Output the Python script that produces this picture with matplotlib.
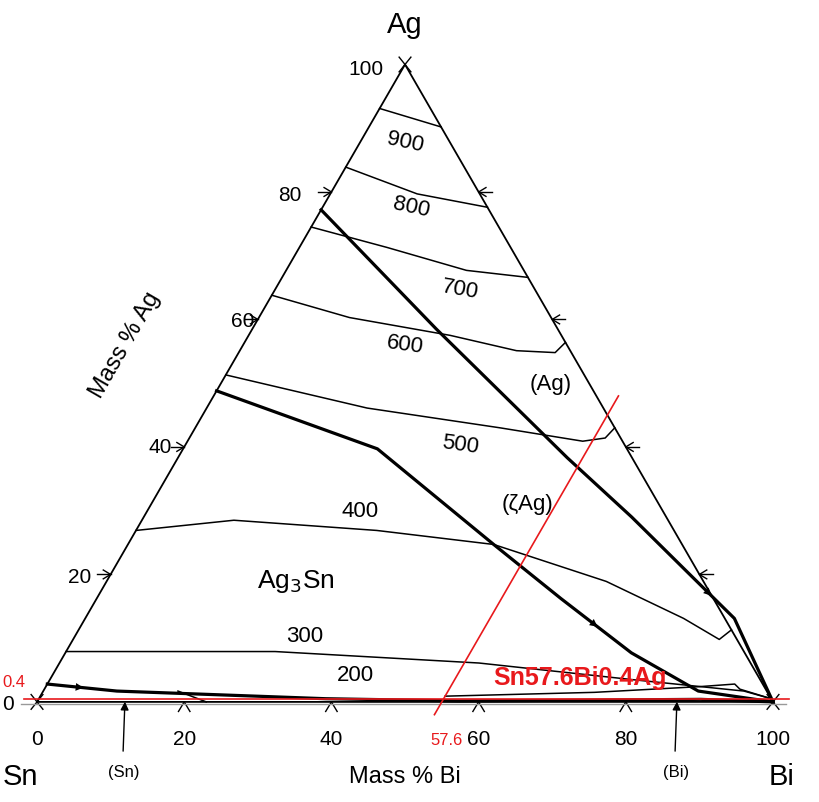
import numpy as np
import matplotlib.pyplot as plt

plt.rcParams['font.family'] = ['Liberation Sans', 'DejaVu Sans']

# isotherms as (mass % Bi, mass % Ag)
iso_900 = [(0, 93.1), (9.8, 90.2)]
iso_800 = [(0, 83.9), (11.8, 79.7), (22.4, 77.6)]
iso_700 = [(0, 74.5), (11.9, 71.3), (24.5, 67.7), (33.4, 66.6)]
iso_600 = [(0, 63.8), (12.3, 60.3), (27.4, 57.5), (37.6, 55.1), (43.0, 54.8), (43.6, 56.4)]
iso_500 = [(0, 51.3), (21.8, 46.1), (41.4, 43.0), (53.7, 40.9), (56.5, 41.4), (57.0, 43.0)]
iso_400 = [(0, 26.9), (12.5, 28.5), (32.7, 26.9), (49.7, 24.7), (67.9, 18.9), (81.3, 13.1),
           (87.8, 9.8), (88.7, 11.3)]
iso_300 = [(0, 7.9), (28.4, 7.9), (57.0, 6.1), (79.1, 3.5), (95.2, 1.7), (99.5, 0.5)]
iso_200 = [(55.0, 0.9), (75.0, 1.5), (88.9, 2.4), (93.4, 2.8), (94.5, 2.0), (99.5, 0.5)]
isotherms = [iso_900, iso_800, iso_700, iso_600, iso_500, iso_400, iso_300, iso_200]

# univariant lines
line_ag = [(0, 77.2), (25.0, 58.5), (52.9, 38.3), (66.3, 29.0), (78.0, 20.5), (88.2, 13.1), (100, 0)]
line_zeta = [(0, 48.8), (26.4, 39.7), (49.7, 24.7), (63.1, 16.2), (76.9, 7.7), (89.0, 1.7), (100, 0)]
line_eut = [(0, 2.8), (10.0, 1.7), (39.0, 0.5), (57.3, 0.15), (90.0, 0.4), (100, 0)]
line_sn = [(18.3, 1.7), (23.0, 0.0)]

ticks = [20, 40, 60, 80]
red_label = '57.6'
red_line_bi = 55.0      # where the red section line is drawn in the reference
red_line_ag = (-2.0, 48.0)
red_ag = 0.4

s3 = np.sqrt(3) / 2


def tern(pts):
    p = np.array(pts, dtype=float)
    return p[:, 0] + p[:, 1] / 2, p[:, 1] * s3


def px(x, y):
    # pixel position of the reference -> data units
    return (x - 37) / 7.36, (703 - y) / 7.36


fig = plt.figure(figsize=(8.19, 8.03), dpi=100)
ax = fig.add_axes([0, 0, 1, 1])
ax.set_xlim(-5.03, 106.25)
ax.set_ylim(-13.6, 95.5)
ax.axis('off')

# triangle
tx, ty = tern([(0, 0), (100, 0), (0, 100), (0, 0)])
ax.plot(tx, ty, color='black', lw=1.3)

for c in isotherms:
    x, y = tern(c)
    ax.plot(x, y, color='black', lw=1.1)
for c in [line_ag, line_zeta, line_eut]:
    x, y = tern(c)
    ax.plot(x, y, color='black', lw=2.3)
x, y = tern(line_sn)
ax.plot(x, y, color='black', lw=1.1)


def arrow_on(c, i):
    x, y = tern(c)
    xm, ym = (x[i] + x[i + 1]) / 2, (y[i] + y[i + 1]) / 2
    ax.annotate('', xy=(xm + (x[i + 1] - x[i]) * 0.02, ym + (y[i + 1] - y[i]) * 0.02), xytext=(xm, ym),
                arrowprops=dict(arrowstyle='-|>', color='black', lw=0, mutation_scale=14))


arrow_on(line_ag, 4)
arrow_on(line_zeta, 3)
arrow_on(line_eut, 0)

# ticks
L = 1.3
for t in ticks:
    x, y = tern([(t, 0)])
    ax.plot([x[0] - L * 0.6, x[0], x[0] + L * 0.6], [y[0] - L, y[0], y[0] - L], color='black', lw=1)
    x, y = tern([(0, t)])
    ax.plot([x[0] - 1.8, x[0]], [y[0], y[0]], color='black', lw=1)
    ax.plot([x[0] - 1.0, x[0], x[0] - 1.0], [y[0] + 0.6, y[0], y[0] - 0.6], color='black', lw=1)
    x, y = tern([(100 - t, t)])
    ax.plot([x[0], x[0] + 1.8], [y[0], y[0]], color='black', lw=1)
    ax.plot([x[0] + 1.0, x[0], x[0] + 1.0], [y[0] + 0.6, y[0], y[0] - 0.6], color='black', lw=1)
for c in [(0, 0), (100, 0), (0, 100)]:
    x, y = tern([c])
    ax.plot([x[0] - 0.8, x[0] + 0.8], [y[0] - 1.0, y[0] + 1.0], color='black', lw=1)
    ax.plot([x[0] - 0.8, x[0] + 0.8], [y[0] + 1.0, y[0] - 1.0], color='black', lw=1)

# red section lines
x, y = tern([(-2, red_ag), (102, red_ag)])
ax.plot(x, y, color='#e8191c', lw=1.2)
x, y = tern([(-2, -0.4), (102, -0.4)])
ax.plot(x, y, color='#999999', lw=1)
x, y = tern([(red_line_bi, red_line_ag[0]), (red_line_bi, red_line_ag[1])])
ax.plot(x, y, color='#e8191c', lw=1.2)

fs = 15
for t, lab in zip([0, 20, 40, 60, 80, 100], ['0', '20', '40', '60', '80', '100']):
    x, y = tern([(t, 0)])
    ax.text(x[0], y[0] - 5.0, lab, ha='center', va='center', fontsize=fs)
for lab, (xx, yy) in zip(['100', '80', '60', '40', '20', '0'],
                         [(366, 70), (290, 196), (243, 322), (160, 448), (80, 578), (8, 705)]):
    ax.text(*px(xx, yy), lab, ha='center', va='center', fontsize=fs)
ax.text(*px(14, 683), '0.4', ha='center', va='center', fontsize=12, color='#e8191c')
ax.text(*px(447, 741), red_label, ha='center', va='center', fontsize=12, color='#e8191c')

ax.text(*px(405, 25), 'Ag', ha='center', va='center', fontsize=21)
ax.text(*px(20, 777), 'Sn', ha='center', va='center', fontsize=21)
ax.text(*px(782, 777), 'Bi', ha='center', va='center', fontsize=21)
ax.text(*px(405, 777), 'Mass % Bi', ha='center', va='center', fontsize=17)
ax.text(*px(125, 345), 'Mass % Ag', ha='center', va='center', fontsize=17, rotation=60)

for lab, (xx, yy), r in zip(['900', '800', '700', '600', '500', '400', '300', '200'],
                            [(405, 143), (411, 208), (460, 290), (405, 345), (460, 445),
                             (360, 512), (305, 637), (355, 676)],
                            [-12, -12, -10, -8, -8, 0, 0, 0]):
    ax.text(*px(xx, yy), lab, ha='center', va='center', fontsize=16, rotation=r)

ax.text(*px(551, 385), '(Ag)', ha='center', va='center', fontsize=16)
ax.text(*px(527, 505), '(ζAg)', ha='center', va='center', fontsize=16)
ax.text(*px(296, 582), 'Ag$_3$Sn', ha='center', va='center', fontsize=19)
ax.text(*px(580, 678), 'Sn57.6Bi0.4Ag', ha='center', va='center', fontsize=18,
        color='#e8191c', fontweight='bold')

for lab, xx in [('(Sn)', 124), ('(Bi)', 676)]:
    ax.text(*px(xx, 773), lab, ha='center', va='center', fontsize=12)
    ax.annotate('', xy=px(xx + 1, 700), xytext=px(xx - 1, 755),
                arrowprops=dict(arrowstyle='-|>', color='black', lw=1, mutation_scale=12))

fig.savefig('out.png', dpi=100)
